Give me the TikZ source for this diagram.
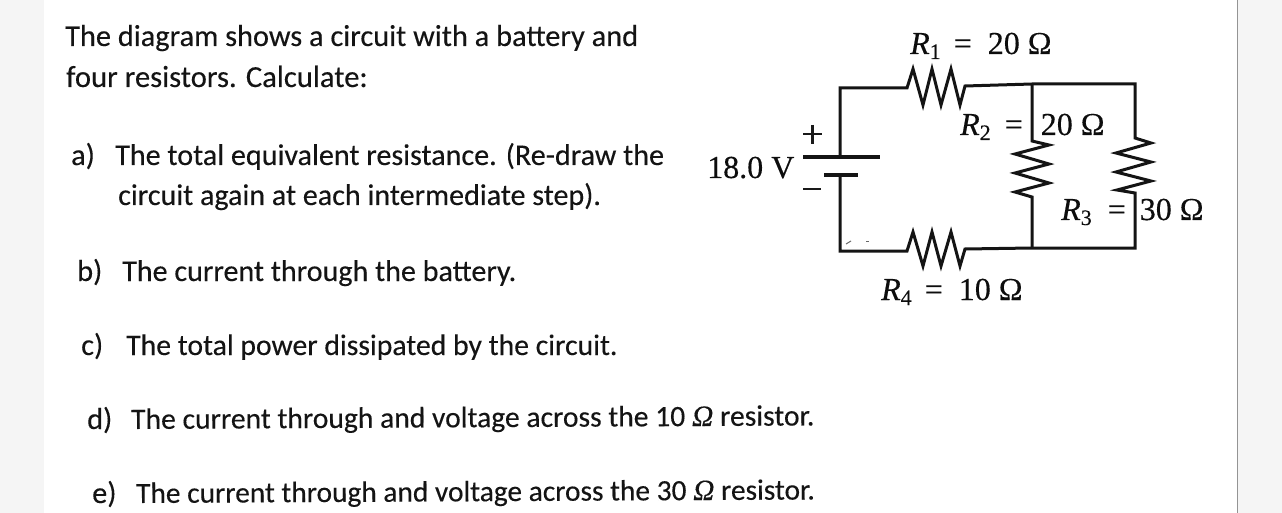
\documentclass[tikz,border=0pt]{standalone}
\usepackage{fontspec}
\setmainfont[FakeBold=0.25]{Carlito}
\newfontfamily\lab[FakeBold=0.3]{Liberation Serif}
\newfontfamily\labit[FakeBold=0.3]{Liberation Serif Italic}
\newcommand{\Rsym}[1]{{\labit R}{\fontsize{22}{22}\selectfont\raisebox{-5pt}{#1}}}
\tikzset{
 x=1pt,y=-1pt,
 qtext/.style={anchor=base west,inner sep=0pt,font=\fontsize{#1}{31}\selectfont,text=black!92},
 qtext/.default=30.3,
 clabel/.style={anchor=base west,inner sep=0pt,font=\lab\fontsize{32}{33}\selectfont,text=black!95},
 wire/.style={line width=3pt,black!92,line join=miter},
 plate/.style={line width=3.4pt,black!92},
 sign/.style={line width=2.4pt,black!90},
 speck/.style={line width=1pt,black!60},
}
\begin{document}
\begin{tikzpicture}
\useasboundingbox (0,0) rectangle (1282,513);
\fill[white] (0,0) rectangle (1282,513);
\fill[black!4] (0,0) rectangle (44,513);
\fill[black!4] (1238,0) rectangle (1282,513);
\draw[line width=1.5pt,black!42] (1237.5,0) -- (1237.5,513);
\node[qtext=30.35] (t1) at (65,46) {The diagram shows a circuit with a battery and};
\node[qtext=30.6] (t2) at (66,87) {four resistors. Calculate:};
\node[qtext=30.3] (ta) at (71,165) {a)};
\node[qtext=30.1] (ta1) at (115,165) {The total equivalent resistance. (Re-draw the};
\node[qtext=30.05] (ta2) at (118,205) {circuit again at each intermediate step).};
\node[qtext=30.3] (tb) at (77,281) {b)};
\node[qtext=30.07] (tb1) at (122,281) {The current through the battery.};
\node[qtext=30.3] (tc) at (81,355) {c)};
\node[qtext=29.7] (tc1) at (126,355) {The total power dissipated by the circuit.};
\node[qtext=30.3] (td) at (87,429) {d)};
\node[qtext=29.6,rotate=0.3] (td1) at (131,429) {The current through and voltage across the 10 {\labit Ω} resistor.};
\node[qtext=30.3] (te) at (92,503) {e)};
\node[qtext=29.4,rotate=0.3] (te1) at (136,503) {The current through and voltage across the 30 {\labit Ω} resistor.};

\coordinate (tl) at (840,88);
\coordinate (bl) at (840,251);
\coordinate (n1) at (1032,84);
\coordinate (n2) at (1032,248);
\coordinate (tr) at (1135,84);
\coordinate (br) at (1135,248);

\draw[wire] (840,157) -- (tl) -- (907,88) -- (913,69) -- (923,105) -- (932,69) -- (941,105) -- (951,69) -- (960,105) -- (965,86) -- (n1) -- (tr)
 -- (1135,138) -- (1151,143) -- (1116,153) -- (1151,162) -- (1116,172) -- (1151,181) -- (1117,190) -- (1135,193) -- (br) -- (n2)
 -- (965,249) -- (960,266) -- (951,232) -- (941,266) -- (932,232) -- (923,266) -- (913,232) -- (907,251) -- (bl) -- (840,175);
\draw[wire] (n1) -- (1032,141) -- (1049,145) -- (1015,154) -- (1049,164) -- (1015,173) -- (1049,183) -- (1015,192) -- (1032,197) -- (n2);
\draw[plate] (803,157) -- (880,157);
\draw[plate] (824,175) -- (858,175);
\draw[sign] (803,134) -- (822,134) (812.5,125) -- (812.5,144);
\draw[sign] (803,189) -- (821,189);
\draw[speck] (846,244) -- (851,241);
\draw[speck] (866,241) -- (869,241);
\node[clabel] (v) at (707,178) {18.0 V};
\node[clabel] (r1) at (910,54) {\Rsym{1}\hspace{13pt}=\hspace{16pt}20 Ω};
\node[clabel] (r2) at (960,135) {\Rsym{2}\hspace{14pt}=\hspace{18pt}20 Ω};
\node[clabel] (r3) at (1061,220) {\Rsym{3}\hspace{16pt}=\hspace{14pt}30 Ω};
\node[clabel] (r4) at (881,300) {\Rsym{4}\hspace{13pt}=\hspace{16pt}10 Ω};
\end{tikzpicture}
\end{document}
